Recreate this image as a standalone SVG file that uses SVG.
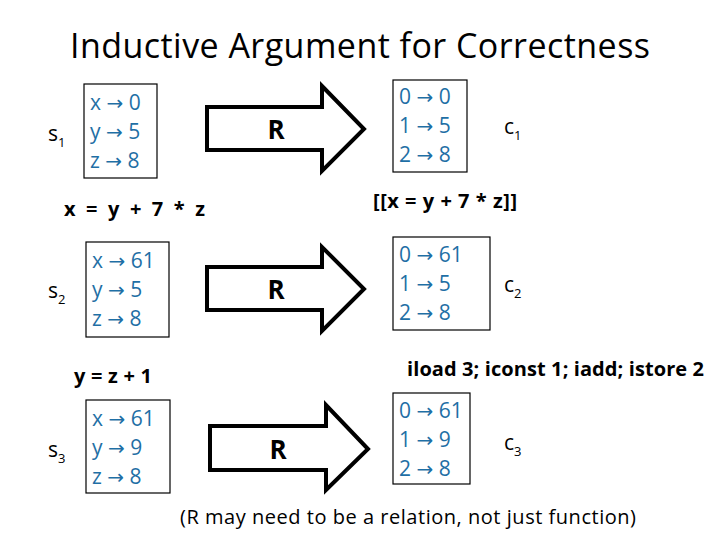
<svg xmlns="http://www.w3.org/2000/svg" width="720" height="540" viewBox="0 0 720 540">
<style>
text{font-family:"Open Sans","Liberation Sans",sans-serif}
.b{fill:#fff;stroke:#000;stroke-width:1.2}
.v{fill:#1f6fa5;font-size:21px}
.v tspan.g{font-family:"DejaVu Sans",sans-serif;font-size:20px}
.l{fill:#000;font-size:21px}
.s{font-size:13px}
.k{fill:#000;font-size:20px;font-weight:bold}
.a{fill:#fff;stroke:#000;stroke-width:4;stroke-linejoin:miter}
.r{font-size:26px;font-weight:bold;fill:#000;text-anchor:middle}
</style>
<text x="70" y="58" font-size="34" textLength="580" fill="#000">Inductive Argument for Correctness</text>
<g id="s1"><rect class="b" x="84" y="84" width="73" height="94"/><text class="v" x="90" y="110">x <tspan class="g">→</tspan> 0</text><text class="v" x="90" y="139">y <tspan class="g">→</tspan> 5</text><text class="v" x="90" y="168">z <tspan class="g">→</tspan> 8</text><text class="l" x="48" y="141">s<tspan class="s" dy="6">1</tspan></text></g>
<g id="c1"><rect class="b" x="393" y="80" width="74" height="92"/><text class="v" x="399" y="104">0 <tspan class="g">→</tspan> 0</text><text class="v" x="399" y="133">1 <tspan class="g">→</tspan> 5</text><text class="v" x="399" y="162">2 <tspan class="g">→</tspan> 8</text><text class="l" x="504" y="134">c<tspan class="s" dy="6">1</tspan></text></g>
<g id="s2"><rect class="b" x="86" y="242" width="83" height="95"/><text class="v" x="92" y="268">x <tspan class="g">→</tspan> 61</text><text class="v" x="92" y="297">y <tspan class="g">→</tspan> 5</text><text class="v" x="92" y="326">z <tspan class="g">→</tspan> 8</text><text class="l" x="48" y="298">s<tspan class="s" dy="6">2</tspan></text></g>
<g id="c2"><rect class="b" x="393" y="237" width="97" height="93"/><text class="v" x="399" y="262">0 <tspan class="g">→</tspan> 61</text><text class="v" x="399" y="291">1 <tspan class="g">→</tspan> 5</text><text class="v" x="399" y="320">2 <tspan class="g">→</tspan> 8</text><text class="l" x="504" y="292">c<tspan class="s" dy="6">2</tspan></text></g>
<g id="s3"><rect class="b" x="86" y="400" width="84" height="93"/><text class="v" x="92" y="426">x <tspan class="g">→</tspan> 61</text><text class="v" x="92" y="455">y <tspan class="g">→</tspan> 9</text><text class="v" x="92" y="484">z <tspan class="g">→</tspan> 8</text><text class="l" x="48" y="457">s<tspan class="s" dy="6">3</tspan></text></g>
<g id="c3"><rect class="b" x="393" y="393" width="77" height="91"/><text class="v" x="399" y="418">0 <tspan class="g">→</tspan> 61</text><text class="v" x="399" y="447">1 <tspan class="g">→</tspan> 9</text><text class="v" x="399" y="476">2 <tspan class="g">→</tspan> 8</text><text class="l" x="504" y="450">c<tspan class="s" dy="6">3</tspan></text></g>
<g id="connectors">
<path class="a" d="M207,107 H322 V86 L364,129 L322,171 V150 H207 Z"/>
<path class="a" d="M207,267 H322 V247 L364,289 L322,331 V310 H207 Z"/>
<path class="a" d="M210,426 H326 V405 L368,449 L326,490 V470 H210 Z"/>
</g>
<text class="r" x="276" y="139">R</text>
<text class="r" x="276" y="299">R</text>
<text class="r" x="278" y="459">R</text>
<text class="k" x="64" y="216" textLength="141">x = y + 7 * z</text>
<text class="k" x="373" y="208" textLength="144">[[x = y + 7 * z]]</text>
<text class="k" x="74" y="383" textLength="78">y = z + 1</text>
<text class="k" x="407" y="376" textLength="297">iload 3; iconst 1; iadd; istore 2</text>
<text x="180" y="524" font-size="20" textLength="456" fill="#000">(R may need to be a relation, not just function)</text>
</svg>
